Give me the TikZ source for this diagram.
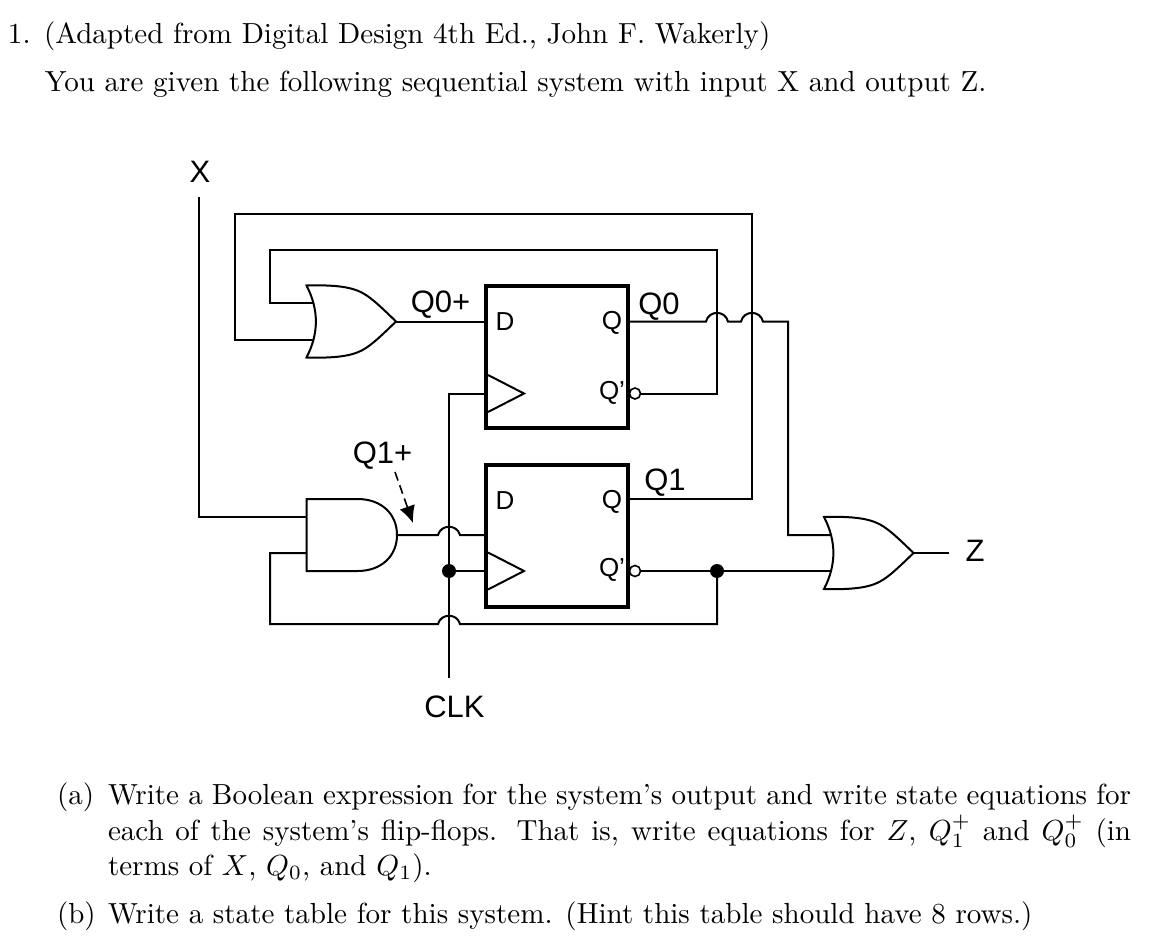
\documentclass[tikz,border=0pt]{standalone}
\usepackage{fontspec}
\usetikzlibrary{arrows.meta}
\newfontfamily\labfont{Liberation Sans}
\tikzset{
  x=1pt,y=-1pt,
  wire/.style={line width=2pt,line cap=butt,line join=miter},
  para/.style={scale=2.905,anchor=base west,inner sep=0pt,outer sep=0pt},
  biglab/.style={inner sep=0pt,font=\labfont\fontsize{31}{31}\selectfont},
  pinlab/.style={inner sep=0pt,font=\labfont\fontsize{26}{26}\selectfont},
  jdot/.style={circle,fill=black,inner sep=0pt,minimum size=14pt},
  orgate/.pic={
    \draw[wire,line join=miter] (0,0) .. controls (20,-0.5) and (40,0) .. (53,6)
      .. controls (62,10) and (70,17) .. (89.5,36)
      .. controls (70,55) and (62,62) .. (53,66)
      .. controls (40,72) and (20,72.5) .. (0,72)
      .. controls (12.5,48) and (12.5,24) .. cycle;
    \coordinate (-a) at (6.5,18);
    \coordinate (-b) at (6.5,54);
    \coordinate (-o) at (89.5,36);
  },
  andgate/.pic={
    \draw[wire] (51,0) .. controls (75,0) and (90.5,15) .. (90.5,36)
      .. controls (90.5,57) and (75,72) .. (51,72) -- (0,72) -- (0,0) -- cycle;
    \coordinate (-a) at (0,18);
    \coordinate (-b) at (0,54);
    \coordinate (-o) at (90.5,36);
  },
  flipflop/.pic={
    \draw[line width=4pt,line join=miter] (0,0) rectangle (142,142);
    \draw[wire] (2,#1-18.5) -- (38,#1) -- (2,#1+18.5);
    \draw[line width=1.6pt] (149,#1) circle (5.5);
    \node[pinlab] (-dl) at (19,36) {D};
    \node[pinlab] (-ql) at (126,37) {Q};
    \node[pinlab] (-nl) at (126,#1-1) {Q’};
    \coordinate (-c) at (0,#1);
    \coordinate (-n) at (154.5,#1);
  },
}
\begin{document}
\begin{tikzpicture}
\useasboundingbox (0,0) rectangle (1160,952);
% text
\node[para] (n1) at (8,44) {1.};
\node[para] (t1) at (44,44) {(Adapted from Digital Design 4th Ed., John F. Wakerly)};
\node[para] (t2) at (45,92) {You are given the following sequential system with input X and output Z.};
\node[para] (la) at (57,804) {(a)};
\node[para] (a1) at (108,804) {\hbox to 352.2pt{Write a Boolean expression for the system’s output and write state equations for}};
\node[para] (a2) at (108,840) {\hbox to 352.2pt{each of the system’s flip-flops. That is, write equations for $Z$, $Q_1^+$ and $Q_0^+$ (in}};
\node[para] (a3) at (108,875) {terms of $X$, $Q_0$, and $Q_1$).};
\node[para] (lb) at (57,923) {(b)};
\node[para] (b1) at (108,923) {Write a state table for this system. (Hint this table should have 8 rows.)};
% parts
\pic (g0) at (306.5,285.5) {orgate};
\pic (g1) at (306.5,499) {andgate};
\pic (g2) at (824,517) {orgate};
\pic (f0) at (486,286) {flipflop=107.5};
\pic (f1) at (486,465) {flipflop=106};
% labels
\node[biglab] (lx) at (200,172) {X};
\node[biglab] (lz) at (975,551) {Z};
\node[biglab] (lclk) at (454.5,707) {CLK};
\node[biglab] (l0p) at (440.5,305) {Q0+};
\node[biglab] (l1p) at (382.5,456) {Q1+};
\node[biglab] (l0) at (659,307) {Q0};
\node[biglab] (l1) at (665,483) {Q1};
% junctions
\node[jdot] (j1) at (449,571) {};
\node[jdot] (j2) at (717,571) {};
% free ends and corners
\coordinate (xtop) at (199,197);
\coordinate (clkb) at (449,678);
\coordinate (zend) at (949,553);
\coordinate (f0d) at (486,321.5);
\coordinate (f0q) at (628,321.5);
\coordinate (f1d) at (486,535);
\coordinate (f1q) at (628,499);
% X
\draw[wire] (xtop) |- (g1-a);
% Q1 feedback to OR
\draw[wire] (f1q) -| (752,214) -| (235,339.5) -- (g0-b);
% Q0' feedback
\draw[wire] (f0-n) -| (717,250) -| (270,303.5) -- (g0-a);
% Q0+
\draw[wire] (g0-o) -- (f0d);
% Q0 to Z gate
\draw[wire] (f0q) -- (706,321.5) .. controls (709,310) and (725,310) .. (728,321.5)
  -- (741,321.5) .. controls (744,310) and (760,310) .. (763,321.5)
  -- (788,321.5) |- (g2-a);
% Q1+
\draw[wire] (g1-o) -- (438,535) .. controls (441,524) and (457,524) .. (460,535) -- (f1d);
% clock
\draw[wire] (f0-c) -| (clkb);
\draw[wire] (j1) -- (f1-c);
% Q1'
\draw[wire] (f1-n) -- (j2) -- (g2-b);
\draw[wire] (j2) |- (460,624) .. controls (457,613) and (441,613) .. (438,624) -| (270,553) -- (g1-b);
% Z
\draw[wire] (g2-o) -- (zend);
% arrow
\coordinate (as) at (395,472);
\coordinate (ae) at (413,523);
\draw[line width=1.6pt,dash pattern=on 9pt off 5pt,-{Latex[length=17pt,width=16pt]}] (as) -- (ae);
\end{tikzpicture}
\end{document}
